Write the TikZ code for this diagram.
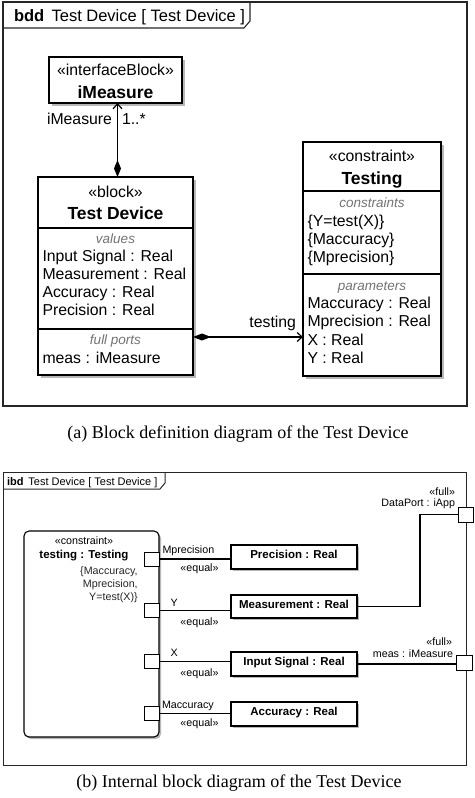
\documentclass[tikz,border=0pt]{standalone}
\usepackage{fontspec}
\setmainfont{Liberation Sans}
\setsansfont{Liberation Sans}
\newfontfamily\capfont{Liberation Serif}
\usetikzlibrary{arrows.meta,shadows}
\newcommand{\myfs}[1]{\fontsize{#1}{#1}\selectfont}
\begin{document}
\begin{tikzpicture}[x=1pt,y=-1pt,
  every node/.style={inner sep=0pt,outer sep=0pt},
  frameline/.style={draw=black!85,line width=1.1pt},
  bblk/.style={draw=black,line width=1.4pt,fill=white,anchor=north west,
    general shadow={fill=black!28,shadow xshift=3pt,shadow yshift=-3pt}},
  iblk/.style={draw=black,line width=1.1pt,fill=white,anchor=north west,
    general shadow={fill=black!28,shadow xshift=2pt,shadow yshift=-2pt}},
  btxt/.style={font=\myfs{15.8}},
  bbold/.style={font=\bfseries\myfs{17.5}},
  bital/.style={font=\itshape\myfs{13.5},text=black!55},
  itxt/.style={font=\myfs{10.7}},
  ibold/.style={font=\bfseries\myfs{11.5}},
  port/.style={draw=black,line width=1pt,fill=white,minimum width=15pt,minimum height=14pt},
  captext/.style={font=\capfont\myfs{18}},
  conn/.style={line width=1.1pt},
  bconn/.style={line width=1.2pt},
]
\useasboundingbox (0,0) rectangle (474,798);

% ---------------- BDD ----------------
\draw[frameline] (3,2) rectangle (467,406);
\draw[frameline] (3,28) -- (244,28) -- (250,21) -- (250,2);
\node[font=\myfs{16.5},anchor=base west] (bddt) at (14,21) {\textbf{bdd}\, Test Device [ Test Device ]};

% iMeasure
\node[bblk,minimum width=133pt,minimum height=46pt] (im) at (49,57) {};
\node[btxt,anchor=base] (imst) at (im.center |- 0,75) {«interfaceBlock»};
\node[bbold,anchor=base] (imnm) at (im.center |- 0,98) {iMeasure};

% Test Device
\node[bblk,minimum width=155pt,minimum height=198pt] (td) at (38,177) {};
\draw[line width=1.4pt] (td.west |- 0,228) -- (td.east |- 0,228);
\draw[line width=1.4pt] (td.west |- 0,329) -- (td.east |- 0,329);
\node[btxt,anchor=base] (tdst) at (td.center |- 0,197) {«block»};
\node[bbold,anchor=base] (tdnm) at (td.center |- 0,219) {Test Device};
\node[bital,anchor=base] (tdv) at (td.center |- 0,243) {values};
\node[btxt,anchor=base west] (tdv1) at (42.5,261) {Input Signal : Real};
\node[btxt,anchor=base west] (tdv2) at (42.5,279) {Measurement : Real};
\node[btxt,anchor=base west] (tdv3) at (42.5,297) {Accuracy : Real};
\node[btxt,anchor=base west] (tdv4) at (42.5,315) {Precision : Real};
\node[bital,anchor=base] (tdp) at (td.center |- 0,344) {full ports};
\node[btxt,anchor=base west] (tdp1) at (42.5,363) {meas : iMeasure};

% Testing
\node[bblk,minimum width=138pt,minimum height=234pt] (tc) at (303,142) {};
\draw[line width=1.4pt] (tc.west |- 0,191) -- (tc.east |- 0,191);
\draw[line width=1.4pt] (tc.west |- 0,274) -- (tc.east |- 0,274);
\node[btxt,anchor=base] (tcst) at (tc.center |- 0,161.5) {«constraint»};
\node[bbold,anchor=base] (tcnm) at (tc.center |- 0,184) {Testing};
\node[bital,anchor=base] (tcc) at (tc.center |- 0,207) {constraints};
\node[btxt,anchor=base west] (tcc1) at (307.5,226) {\{Y=test(X)\}};
\node[btxt,anchor=base west] (tcc2) at (307.5,244) {\{Maccuracy\}};
\node[btxt,anchor=base west] (tcc3) at (307.5,262) {\{Mprecision\}};
\node[bital,anchor=base] (tcp) at (tc.center |- 0,290) {parameters};
\node[btxt,anchor=base west] (tcp1) at (307.5,308) {Maccuracy : Real};
\node[btxt,anchor=base west] (tcp2) at (307.5,326.5) {Mprecision : Real};
\node[btxt,anchor=base west] (tcp3) at (307.5,345) {X : Real};
\node[btxt,anchor=base west] (tcp4) at (307.5,363) {Y : Real};

% connectors
\draw[bconn,{Diamond[length=17pt,width=7pt]}-{Straight Barb[length=5pt,width=9pt]}] ([xshift=2pt]td.north) -- ([xshift=2pt]im.south);
\node[btxt,anchor=base east] (rl1) at (112,124) {iMeasure};
\node[btxt,anchor=base west] (ml1) at (122,124) {1..*};
\coordinate (tj) at (0,337);
\draw[bconn,{Diamond[length=18pt,width=7pt]}-{Straight Barb[length=5pt,width=9pt]}] (td.east |- tj) -- (tc.west |- tj);
\node[btxt,anchor=base east] (rl2) at (296,327) {testing};

\node[captext,anchor=base] (capa) at (238,438) {(a) Block definition diagram of the Test Device};

% ---------------- IBD ----------------
\draw[frameline,line width=1pt] (3,472) rectangle (466,765);
\draw[frameline,line width=1pt] (3,489) -- (160,489) -- (165,483) -- (165,472);
\node[font=\myfs{11},anchor=base west] (ibdt) at (7,485) {\textbf{ibd}\, Test Device [ Test Device ]};

% constraint property
\node[iblk,rounded corners=5pt,minimum width=135pt,minimum height=206pt] (cb) at (24,531) {};
\node[itxt,anchor=base] (cbst) at (84,544) {«constraint»};
\node[ibold,anchor=base] (cbnm) at (84,558.5) {testing : Testing};
\node[itxt,anchor=base east,text=black!85] (cbc1) at (137.7,574) {\{Maccuracy,};
\node[itxt,anchor=base east,text=black!85] (cbc2) at (137.7,587) {Mprecision,};
\node[itxt,anchor=base east,text=black!85] (cbc3) at (137.7,600) {Y=test(X)\}};

\node[port,anchor=east] (p1) at (cb.east |- 0,559) {};
\node[port,anchor=east] (p2) at (cb.east |- 0,610.5) {};
\node[port,anchor=east] (p3) at (cb.east |- 0,661.5) {};
\node[port,anchor=east] (p4) at (cb.east |- 0,713.5) {};

% value properties
\node[iblk,ibold,minimum width=126pt,minimum height=24pt,text height=8pt,text depth=5pt] (pr) at (231,545) {Precision : Real};
\node[iblk,ibold,minimum width=126pt,minimum height=23pt,text height=8pt,text depth=5pt] (me) at (231,595) {Measurement : Real};
\node[iblk,ibold,minimum width=126pt,minimum height=24pt,text height=8pt,text depth=5pt] (is) at (231,652) {Input Signal : Real};
\node[iblk,ibold,minimum width=126pt,minimum height=24pt,text height=8pt,text depth=5pt] (ac) at (231,702) {Accuracy : Real};

% boundary ports
\node[port,minimum width=15pt,minimum height=15pt] (dp) at (465.5,514.5) {};
\node[port,minimum width=16pt,minimum height=15pt] (mp) at (464.5,662.5) {};
\node[itxt,anchor=base east] (dpst) at (455,495) {«full»};
\node[itxt,anchor=base east] (dpnm) at (455,506) {DataPort : iApp};
\node[itxt,anchor=base east] (mpst) at (452,645) {«full»};
\node[itxt,anchor=base east] (mpnm) at (453,657) {meas : iMeasure};

% binding connectors
\draw[conn] (p1.east) -- (pr.west |- p1.east);
\draw[conn] (p2.east) -- (me.west |- p2.east);
\draw[conn] (p3.east) -- (is.west |- p3.east);
\draw[conn] (p4.east) -- (ac.west |- p4.east);
\draw[conn] (me.east) -- ++(63,0) |- (dp.west);
\draw[conn] (is.east) -- (mp.west |- is.east);

\node[itxt,anchor=base west] (r1) at (162.5,553.5) {Mprecision};
\node[itxt,anchor=base] (e1) at (199.5,571) {«equal»};
\node[itxt,anchor=base west] (r2) at (170.5,606) {Y};
\node[itxt,anchor=base] (e2) at (199.5,625) {«equal»};
\node[itxt,anchor=base west] (r3) at (170.5,656) {X};
\node[itxt,anchor=base] (e3) at (199.5,676) {«equal»};
\node[itxt,anchor=base west] (r4) at (162,708) {Maccuracy};
\node[itxt,anchor=base] (e4) at (199.5,726) {«equal»};

\node[captext,anchor=base] (capb) at (239,787) {(b) Internal block diagram of the Test Device};
\end{tikzpicture}
\end{document}
